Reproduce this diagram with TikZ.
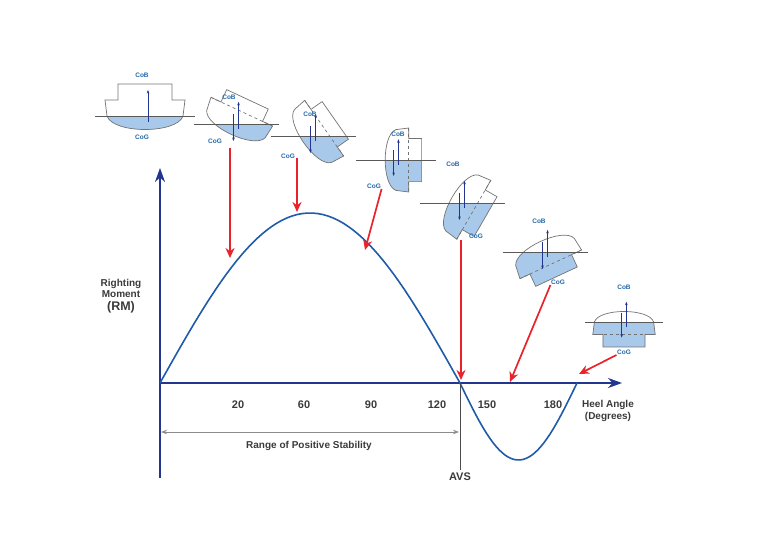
\documentclass[tikz,border=0pt]{standalone}
\usepackage{fontspec}
\setmainfont{Liberation Sans}
\usetikzlibrary{arrows.meta}
\definecolor{navy}{HTML}{22358F}
\definecolor{curveblue}{HTML}{1F5BA8}
\definecolor{redarr}{HTML}{E8232B}
\definecolor{subm}{HTML}{A9C9EA}
\definecolor{labblue}{HTML}{2468A8}
\definecolor{txtgray}{HTML}{3A3A3A}
\tikzset{
 hullline/.style={draw=black!55, line width=0.7pt},
 bluearr/.style={navy, line width=0.9pt, -{Stealth[length=3.5pt]}},
 redline/.style={redarr, line width=1.7pt, -{Stealth[length=10pt,width=9pt]}},
 cglab/.style={text=labblue, font=\bfseries\fontsize{6.5}{7}\selectfont, inner sep=0.5pt},
 axlab/.style={text=txtgray, font=\fontsize{10.5}{12}\selectfont},
}
\def\hullpath{(-38,0) .. controls (-32,18) and (32,18) .. (38,0) -- (40,-16) -- (27,-16) -- (27,-32) -- (-27,-32) -- (-27,-16) -- (-40,-16) -- cycle}
\newcommand\myboat[4]{%
\begin{scope}[shift={(#1,#2)}, scale=#4]
 \begin{scope}\clip (-50,0) rectangle (50,50); \fill[subm, rotate=-#3] \hullpath; \end{scope}
 \draw[hullline, rotate=-#3] \hullpath;
 \ifnum#3>0 \draw[hullline, dashed, rotate=-#3] (-40,-16) -- (40,-16); \fi
 \draw[black!65, line width=1pt] (-50,0) -- (50,0);
 \draw[bluearr] (3,6) -- (3,-26);
 \ifnum#3>0 \draw[bluearr] (-3,-12) -- (-3,20); \fi
\end{scope}}
\begin{document}
\begin{tikzpicture}[x=1pt,y=-1pt]
\useasboundingbox (0,0) rectangle (768,543);
% boats
\myboat{145}{116}{0}{1}
\node[cglab] (cob1) at (142,75) {CoB}; \node[cglab] (cog1) at (142,137) {CoG};
\myboat{236}{124}{25}{0.85}
\node[cglab] (cob2) at (229,97) {CoB}; \node[cglab] (cog2) at (215,141) {CoG};
\myboat{313}{136}{55}{0.85}
\node[cglab] (cob3) at (310,114) {CoB}; \node[cglab] (cog3) at (288,156) {CoG};
\myboat{396}{160}{90}{0.8}
\node[cglab] (cob4) at (398,134) {CoB}; \node[cglab] (cog4) at (374,186) {CoG};
\myboat{462}{203}{120}{0.85}
\node[cglab] (cob5) at (453,164) {CoB}; \node[cglab] (cog5) at (476,236) {CoG};
\myboat{545}{252}{155}{0.85}
\node[cglab] (cob6) at (539,221) {CoB}; \node[cglab] (cog6) at (558,282) {CoG};
\myboat{624}{322}{180}{0.78}
\node[cglab] (cob7) at (624,287) {CoB}; \node[cglab] (cog7) at (624,352) {CoG};
% axes
\coordinate (O) at (160,383);
\coordinate (ytop) at (160,168);
\coordinate (xend) at (622,383);
\coordinate (ybot) at (160,478);
\draw[navy, line width=2.6pt] (ybot) -- (O);
\draw[navy, line width=2.6pt, -{Stealth[length=14pt,width=10pt]}] (O) -- (ytop);
\draw[navy, line width=2.6pt, -{Stealth[length=14pt,width=10pt]}] (O) -- (xend);
% curve
\draw[curveblue, line width=1.6pt] plot[domain=0:180, samples=60] ({160+\x/180*300},{383-170*sin(\x)});
\draw[curveblue, line width=1.6pt] plot[domain=0:180, samples=40] ({460+\x/180*117},{383+77*sin(\x)});
% ticks
\foreach \v/\xx in {20/238,60/304,90/371,120/437,150/487,180/553}
  \node[axlab, font=\bfseries\fontsize{11}{12}\selectfont] (t\v) at (\xx,405) {\v};
\node[axlab, align=center, font=\bfseries\fontsize{10}{11.5}\selectfont] (heel) at (608,411) {Heel Angle\\(Degrees)};
\node[axlab, align=center, font=\bfseries\fontsize{10}{11.5}\selectfont] (rm) at (121,296) {Righting\\Moment\\[1pt]{\fontsize{12.5}{14}\selectfont(RM)}};
% range
\coordinate (r1) at (161,432); \coordinate (r2) at (459,432);
\draw[black!45, line width=0.8pt, {Stealth[length=6pt]}-{Stealth[length=6pt]}] (r1) -- (r2);
\node[axlab, font=\bfseries\fontsize{10}{12}\selectfont] (range) at (309,446) {Range of Positive Stability};
\coordinate (avs1) at (460,383); \coordinate (avs2) at (460,470);
\draw[black!70, line width=1pt] (avs1) -- (avs2);
\node[axlab, font=\bfseries\fontsize{11}{12}\selectfont] (avs) at (460,477) {AVS};
% red arrows
\draw[redline] (230,148) coordinate (a2) -- (230,258);
\draw[redline] (297,158) coordinate (a3) -- (297,212);
\draw[redline] (cog4.south east) -- (365,250);
\draw[redline] (461,240) coordinate (a5) -- (461,380);
\draw[redline] (cog6.south west) -- (510,382);
\draw[redline] (cog7.south west) -- (579,374);
\end{tikzpicture}
\end{document}
